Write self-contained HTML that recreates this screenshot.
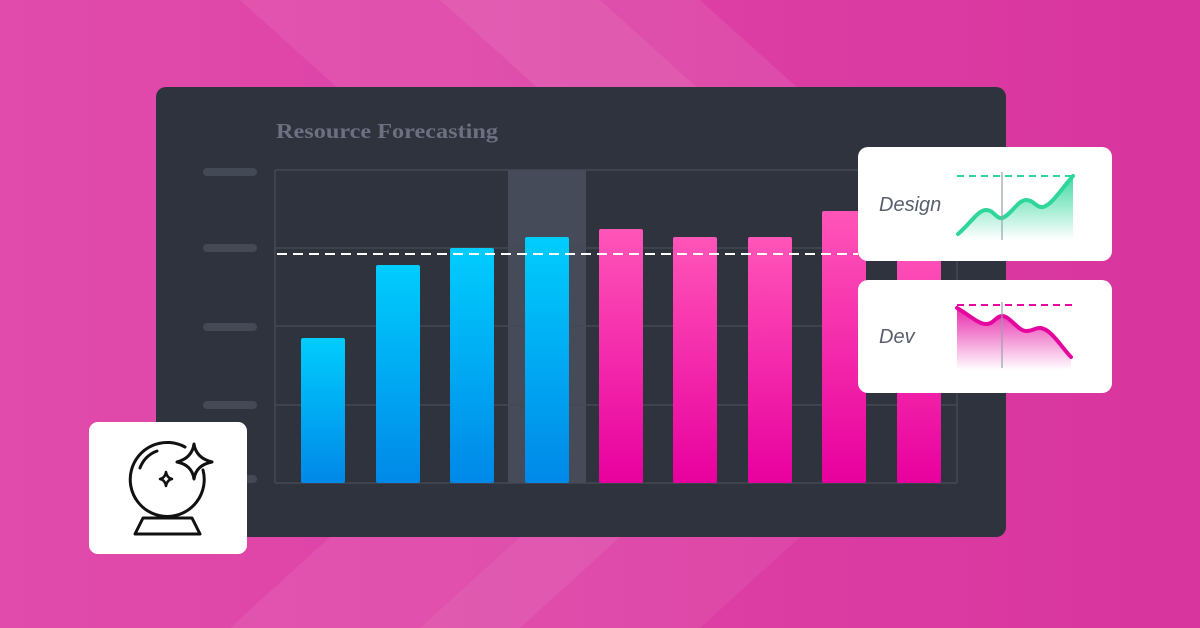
<!DOCTYPE html>
<html><head><meta charset="utf-8"><style>
body{margin:0;width:1200px;height:628px;overflow:hidden;background:#dd3fa6;font-family:"Liberation Sans",sans-serif;}
</style></head><body>
<svg width="1200" height="628" viewBox="0 0 1200 628" xmlns="http://www.w3.org/2000/svg" style="position:absolute;left:0;top:0">
<defs>
<linearGradient id="bg" x1="0" y1="0" x2="1" y2="0"><stop offset="0" stop-color="#e14bab"/><stop offset="1" stop-color="#d8359e"/></linearGradient>
<linearGradient id="blue" x1="0" y1="0" x2="0" y2="1"><stop offset="0" stop-color="#00cdfd"/><stop offset="1" stop-color="#0088e8"/></linearGradient>
<linearGradient id="pink" x1="0" y1="0" x2="0" y2="1"><stop offset="0" stop-color="#ff55b8"/><stop offset="1" stop-color="#e8009e"/></linearGradient>
<linearGradient id="gf" x1="0" y1="0" x2="0" y2="1"><stop offset="0" stop-color="#2ed69a" stop-opacity=".9"/><stop offset="1" stop-color="#2ed69a" stop-opacity="0"/></linearGradient>
<linearGradient id="pf" x1="0" y1="0" x2="0" y2="1"><stop offset="0" stop-color="#e4069e" stop-opacity=".85"/><stop offset="1" stop-color="#e4069e" stop-opacity="0"/></linearGradient>
</defs>
<rect width="1200" height="628" fill="url(#bg)"/>
<polygon points="240,0 600,0 700,90 340,90" fill="#fff" opacity=".07"/>
<polygon points="440,0 700,0 800,90 540,90" fill="#fff" opacity=".08"/>
<polygon points="230,628 520,628 620,537 330,537" fill="#fff" opacity=".07"/>
<polygon points="420,628 700,628 800,537 520,537" fill="#fff" opacity=".06"/>
<rect x="156" y="87" width="850" height="450" rx="10" fill="#2e333d"/>
<text x="276" y="138" font-family="Liberation Serif,serif" font-weight="bold" font-size="21" fill="#6b7180" textLength="222" lengthAdjust="spacingAndGlyphs">Resource Forecasting</text>
<g fill="#444a55">
<rect x="203" y="168" width="54" height="8" rx="4"/><rect x="203" y="244" width="54" height="8" rx="4"/><rect x="203" y="323" width="54" height="8" rx="4"/><rect x="203" y="401" width="54" height="8" rx="4"/><rect x="203" y="475" width="54" height="8" rx="4"/>
</g>
<rect x="508" y="170" width="78" height="313" fill="#454b58"/>
<g stroke="#434955" stroke-width="1.5" fill="none">
<line x1="275" y1="170" x2="957" y2="170"/><line x1="275" y1="248" x2="957" y2="248"/><line x1="275" y1="326" x2="957" y2="326"/><line x1="275" y1="405" x2="957" y2="405"/><line x1="275" y1="483" x2="957" y2="483"/>
<line x1="275" y1="170" x2="275" y2="483"/><line x1="957" y1="170" x2="957" y2="483"/>
</g>
<g fill="url(#blue)">
<rect x="301" y="338" width="44" height="145" rx="2"/><rect x="376" y="265" width="44" height="218" rx="2"/><rect x="450" y="248" width="44" height="235" rx="2"/><rect x="525" y="237" width="44" height="246" rx="2"/>
</g>
<g fill="url(#pink)">
<rect x="599" y="229" width="44" height="254" rx="2"/><rect x="673" y="237" width="44" height="246" rx="2"/><rect x="748" y="237" width="44" height="246" rx="2"/><rect x="822" y="211" width="44" height="272" rx="2"/><rect x="897" y="240" width="44" height="243" rx="2"/>
</g>
<line x1="277" y1="254" x2="858" y2="254" stroke="#fff" stroke-width="2" stroke-dasharray="10 6"/>
<rect x="858" y="147" width="254" height="114" rx="10" fill="#fff"/>
<rect x="858" y="280" width="254" height="113" rx="10" fill="#fff"/>
<text x="879" y="211" font-style="italic" font-size="20" fill="#5a5f6e">Design</text>
<text x="879" y="343" font-style="italic" font-size="20" fill="#5a5f6e">Dev</text>
<line x1="957" y1="176" x2="1075" y2="176" stroke="#2ed69a" stroke-width="2" stroke-dasharray="7 5"/>
<path d="M958,234 C970,224 978,210 986,210 C994,210 996,219 1002,218 C1010,216 1018,200 1026,200 C1034,200 1036,208 1043,207 C1052,205 1062,188 1073,176 L1073,240 L958,240Z" fill="url(#gf)"/>
<path d="M958,234 C970,224 978,210 986,210 C994,210 996,219 1002,218 C1010,216 1018,200 1026,200 C1034,200 1036,208 1043,207 C1052,205 1062,188 1073,176" fill="none" stroke="#2ed69a" stroke-width="4" stroke-linecap="round"/>
<line x1="1002" y1="172" x2="1002" y2="240" stroke="#9aa0aa" stroke-width="1.2"/>
<line x1="957" y1="305" x2="1073" y2="305" stroke="#e4069e" stroke-width="2" stroke-dasharray="7 5"/>
<path d="M957,308 C968,314 978,324 986,324 C994,324 996,316 1002,316 C1010,316 1018,331 1026,331 C1034,331 1036,327 1041,328 C1052,330 1062,348 1071,357 L1071,370 L957,370Z" fill="url(#pf)"/>
<path d="M957,308 C968,314 978,324 986,324 C994,324 996,316 1002,316 C1010,316 1018,331 1026,331 C1034,331 1036,327 1041,328 C1052,330 1062,348 1071,357" fill="none" stroke="#e4069e" stroke-width="4" stroke-linecap="round"/>
<line x1="1002" y1="302" x2="1002" y2="368" stroke="#9aa0aa" stroke-width="1.2"/>
<rect x="89" y="422" width="158" height="132" rx="9" fill="#fff"/>
<g stroke="#111" stroke-width="3" fill="none" stroke-linejoin="round" stroke-linecap="round">
<path d="M185,447 A37,37 0 1 0 203,470"/>
<path d="M140,468 A28,28 0 0 1 157,451"/>
<path d="M143,518 L192,518 L200,534 L135,534 Z"/>
<path d="M194,444 Q196,458 212,462 Q196,465 194,479 Q192,465 177,462 Q192,458 194,444Z"/>
<path d="M166,472 Q167,478 172,479 Q167,480 166,486 Q165,480 160,479 Q165,478 166,472Z" stroke-width="2.5"/>
</g>
</svg>
</body></html>
